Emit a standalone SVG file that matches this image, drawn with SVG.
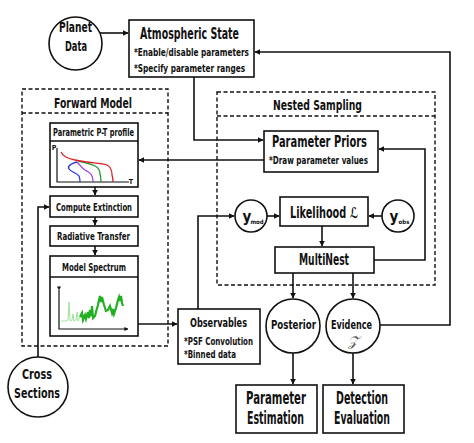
<svg xmlns="http://www.w3.org/2000/svg" width="474" height="443" viewBox="0 0 474 443">
<style>
text{font-family:"DejaVu Sans Condensed","DejaVu Sans",sans-serif;font-weight:bold;fill:#111;text-anchor:middle}
.box{fill:#fff;stroke:#111;stroke-width:1.6}
.dash{fill:none;stroke:#111;stroke-width:1.4;stroke-dasharray:4 2.5}
.con{fill:none;stroke:#111;stroke-width:1.6}
.t15{font-size:15px}.t14{font-size:14px}.t13{font-size:13px}.t11{font-size:11px}.t10{font-size:10px}.t17{font-size:17px}
.ax{fill:none;stroke:#111;stroke-width:1.2}
</style>
<defs>
<marker id="ah" viewBox="0 0 10 10" refX="9" refY="5" markerWidth="6" markerHeight="6" orient="auto" markerUnits="userSpaceOnUse"><path d="M0,0L10,5L0,10z" fill="#111"/></marker>
<marker id="sa" viewBox="0 0 10 10" refX="9" refY="5" markerWidth="4" markerHeight="4" orient="auto" markerUnits="userSpaceOnUse"><path d="M0,0L10,5L0,10z" fill="#111"/></marker>
</defs>
<rect width="474" height="443" fill="#fff"/>

<g id="forward-model">
<rect class="dash" x="22" y="89" width="146" height="257"/>
<line class="dash" x1="22" y1="113" x2="168" y2="113"/>
<text class="t14" x="93" y="108" textLength="78" lengthAdjust="spacingAndGlyphs">Forward Model</text>
</g>
<g id="nested-sampling">
<rect class="dash" x="217" y="92" width="218" height="193"/>
<line class="dash" x1="217" y1="116" x2="435" y2="116"/>
<text class="t14" x="317.5" y="110" textLength="89" lengthAdjust="spacingAndGlyphs">Nested Sampling</text>
</g>

<g id="connectors">
<path class="con" d="M100,33H128" marker-end="url(#ah)"/>
<path class="con" d="M194,77V140H263" marker-end="url(#ah)"/>
<path class="con" d="M264,160H139" marker-end="url(#ah)"/>
<path class="con" d="M95,187V195" marker-end="url(#ah)"/>
<path class="con" d="M95,217V225" marker-end="url(#ah)"/>
<path class="con" d="M95,246V255" marker-end="url(#ah)"/>
<path class="con" d="M138,324H177" marker-end="url(#ah)"/>
<path class="con" d="M38,357V207H49" marker-end="url(#ah)"/>
<path class="con" d="M198,309V216H234" marker-end="url(#ah)"/>
<path class="con" d="M267,216H279" marker-end="url(#ah)"/>
<path class="con" d="M382,216H369" marker-end="url(#ah)"/>
<path class="con" d="M322,226V246" marker-end="url(#ah)"/>
<path class="con" d="M374,260H425V149H379" marker-end="url(#ah)"/>
<path class="con" d="M293,273V298" marker-end="url(#ah)"/>
<path class="con" d="M353,273V298" marker-end="url(#ah)"/>
<path class="con" d="M380,325H450V52H255" marker-end="url(#ah)"/>
<path class="con" d="M293,353V384" marker-end="url(#ah)"/>
<path class="con" d="M353,353V384" marker-end="url(#ah)"/>
</g>

<g id="planet-data">
<circle class="box" cx="75.5" cy="43.5" r="26.5"/>
<text class="t14" x="75.5" y="32" textLength="33" lengthAdjust="spacingAndGlyphs">Planet</text>
<text class="t14" x="76" y="51" textLength="22" lengthAdjust="spacingAndGlyphs">Data</text>
</g>
<g id="atmospheric-state">
<rect class="box" x="129" y="20" width="125" height="57"/>
<text class="t15" x="189.5" y="38.5" textLength="99" lengthAdjust="spacingAndGlyphs">Atmospheric State</text>
<text class="t11" x="191.5" y="56" textLength="115" lengthAdjust="spacingAndGlyphs">*Enable/disable parameters</text>
<text class="t11" x="189.5" y="72" textLength="111" lengthAdjust="spacingAndGlyphs">*Specify parameter ranges</text>
</g>

<g id="pt-profile">
<rect class="box" x="50" y="123" width="88" height="64"/>
<line class="con" x1="50" y1="141" x2="138" y2="141"/>
<text class="t10" x="93.5" y="135.5" textLength="81" lengthAdjust="spacingAndGlyphs">Parametric P-T profile</text>
<path class="ax" d="M57,148V182H129"/>
<text x="54" y="150" style="font-size:7px">P</text>
<text x="131" y="184" style="font-size:7px">T</text>
<path d="M77,162C72,163 67,166 69,169C71,172 77,173 79,176C80,178 80,181 80,182" fill="none" stroke="#2233dd" stroke-width="1.3"/>
<path d="M77,162C80,165 82,168 85,170C89,172 91,173 92,176C93,178 93,181 93,182" fill="none" stroke="#9a3fd0" stroke-width="1.3"/>
<path d="M78,161C86,163 92,164 95,166C99,168 100,171 100,174C101,177 101,180 101,182" fill="none" stroke="#1a9a2a" stroke-width="1.3"/>
<path d="M61,152C63,156 66,158 75,160C90,163 100,163 107,165C111,167 112,171 112,175C113,178 113,180 113,182" fill="none" stroke="#e0202a" stroke-width="1.3"/>
</g>
<g id="compute-extinction">
<rect class="box" x="50" y="196" width="88" height="21"/>
<text class="t11" x="94" y="210.5" textLength="76" lengthAdjust="spacingAndGlyphs">Compute Extinction</text>
</g>
<g id="radiative-transfer">
<rect class="box" x="50" y="226" width="88" height="20"/>
<text class="t11" x="93.5" y="240" textLength="73" lengthAdjust="spacingAndGlyphs">Radiative Transfer</text>
</g>
<g id="model-spectrum">
<rect class="box" x="50" y="256" width="88" height="80"/>
<line class="con" x1="50" y1="277" x2="138" y2="277"/>
<text class="t11" x="94" y="271" textLength="64" lengthAdjust="spacingAndGlyphs">Model Spectrum</text>
<path class="ax" d="M59,290V329H128" marker-start="url(#sa)" marker-end="url(#sa)"/>
<path d="M61,321L66,321L68,320L69,302L70,321L72,320L73,314L74,321L76,320L77,312L78,321L80,317" fill="none" stroke="#9ee29e" stroke-width="1"/>
<path d="M80,317L82,313L83,320L85,315L86,319L88,312L89,318L90,310L91,316L92,306L93,318L95,316L96,312L98,305L99,300L100,296L101,302L102,297L104,305L106,311L108,310L110,306L112,313L113,309L114,314L116,308L117,304L118,300L119,297L120,301L121,296L122,303L123,306" fill="none" stroke="#22b022" stroke-width="2.2"/>
</g>
<g id="cross-sections">
<circle class="box" cx="38" cy="387" r="30"/>
<text class="t14" x="37" y="379" textLength="30" lengthAdjust="spacingAndGlyphs">Cross</text>
<text class="t14" x="37" y="398" textLength="46" lengthAdjust="spacingAndGlyphs">Sections</text>
</g>

<g id="parameter-priors">
<rect class="box" x="264" y="131" width="114" height="41"/>
<text class="t15" x="319.5" y="147" textLength="95" lengthAdjust="spacingAndGlyphs">Parameter Priors</text>
<text class="t11" x="318.5" y="164" textLength="99" lengthAdjust="spacingAndGlyphs">*Draw parameter values</text>
</g>
<g id="y-mod">
<circle class="box" cx="251" cy="216" r="16"/>
<text x="247" y="222" style="font-size:15px">y</text>
<text x="257" y="224" style="font-size:6px">mod</text>
</g>
<g id="likelihood">
<rect class="box" x="280" y="197" width="88" height="29"/>
<text class="t15" x="324" y="218" textLength="68" lengthAdjust="spacingAndGlyphs">Likelihood  ℒ</text>
</g>
<g id="y-obs">
<circle class="box" cx="398" cy="216" r="16"/>
<text x="394" y="222" style="font-size:15px">y</text>
<text x="404" y="224" style="font-size:6px">obs</text>
</g>
<g id="multinest">
<rect class="box" x="275" y="247" width="99" height="26"/>
<text class="t15" x="324" y="265" textLength="50" lengthAdjust="spacingAndGlyphs">MultiNest</text>
</g>
<g id="observables">
<rect class="box" x="178" y="309" width="82" height="55"/>
<text class="t13" x="218.5" y="326.5" textLength="57" lengthAdjust="spacingAndGlyphs">Observables</text>
<text class="t11" x="218.5" y="345" textLength="69" lengthAdjust="spacingAndGlyphs">*PSF Convolution</text>
<text class="t11" x="210" y="358" textLength="52" lengthAdjust="spacingAndGlyphs">*Binned data</text>
</g>
<g id="posterior">
<circle class="box" cx="293" cy="326" r="27"/>
<text class="t13" x="293.5" y="328.5" textLength="45" lengthAdjust="spacingAndGlyphs">Posterior</text>
</g>
<g id="evidence">
<circle class="box" cx="353" cy="326" r="27"/>
<text class="t13" x="351.5" y="328.5" textLength="41" lengthAdjust="spacingAndGlyphs">Evidence</text>
<text x="353" y="346" style="font-weight:normal;font-style:italic;font-size:14px;fill:#555">𝒵</text>
</g>
<g id="parameter-estimation">
<rect class="box" x="236" y="385" width="81" height="48"/>
<text class="t17" x="276" y="404" textLength="60" lengthAdjust="spacingAndGlyphs">Parameter</text>
<text class="t17" x="275.5" y="424" textLength="57" lengthAdjust="spacingAndGlyphs">Estimation</text>
</g>
<g id="detection-evaluation">
<rect class="box" x="323" y="385" width="81" height="48"/>
<text class="t17" x="362" y="404" textLength="52" lengthAdjust="spacingAndGlyphs">Detection</text>
<text class="t17" x="362" y="424" textLength="56" lengthAdjust="spacingAndGlyphs">Evaluation</text>
</g>
</svg>
